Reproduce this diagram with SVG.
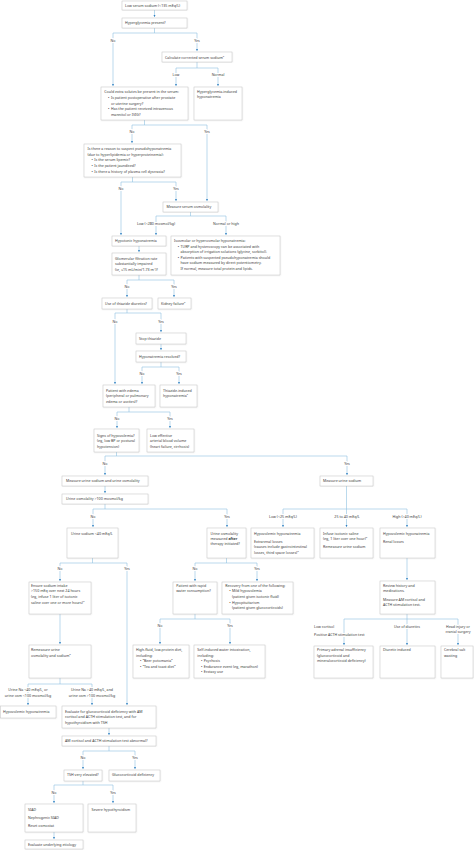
<svg xmlns="http://www.w3.org/2000/svg" width="474" height="850" viewBox="0 0 474 850">
<style>
.b{fill:#fff;stroke:#c4c4c4;stroke-width:0.5;filter:url(#sh)}
.t{font-family:"Noto Sans","Open Sans",sans-serif;font-size:3.6px;fill:#3a3a3a}
.l{font-family:"Noto Sans","Open Sans",sans-serif;font-size:3.6px;fill:#3a3a3a;text-anchor:middle;paint-order:stroke;stroke:#fff;stroke-width:2.2px;stroke-linejoin:round}
.ll{font-family:"Noto Sans","Open Sans",sans-serif;font-size:3.6px;fill:#3a3a3a;paint-order:stroke;stroke:#fff;stroke-width:2.2px;stroke-linejoin:round}
.c path{fill:none;stroke:#8dc1e1;stroke-width:0.6}
.c path.a{marker-end:url(#ah)}
.s{font-size:2.4px;baseline-shift:super}
</style>
<defs>
<marker id="ah" viewBox="0 0 4 4" refX="4" refY="2" markerWidth="2.4" markerHeight="2.4" markerUnits="userSpaceOnUse" orient="auto"><path d="M0,0 L4,2 L0,4 z" fill="#2f7fc1"/></marker>
<filter id="sh" x="-5%" y="-5%" width="110%" height="115%"><feDropShadow dx="0.3" dy="0.4" stdDeviation="0.4" flood-color="#000" flood-opacity="0.15"/></filter>
</defs>
<rect width="474" height="850" fill="#fff"/>
<g class="c" id="connectors">
<path class="a" d="M154.5,10 V17"/>
<path d="M154.5,28 V33 M113,33 H197"/><path class="a" d="M113,33 V86"/><path class="a" d="M197,33 V51"/>
<path d="M197,62 V68 M176,68 H218"/><path class="a" d="M176,68 V86"/><path class="a" d="M218,68 V86"/>
<path d="M144.5,120 V125 M132,125 H207"/><path class="a" d="M132,125 V143"/><path class="a" d="M207,125 V201"/>
<path d="M132.5,177 V182 M121,182 H176"/><path class="a" d="M121,182 V235"/><path class="a" d="M176,182 V201"/>
<path d="M190.5,212 V216 M156,216 H226"/><path class="a" d="M156,216 V235"/><path class="a" d="M226,216 V235"/>
<path class="a" d="M139,246 V252"/>
<path d="M139,275 V280 M127,280 H174"/><path class="a" d="M127,280 V297"/><path class="a" d="M174,280 V297"/>
<path d="M127,309 V313 M115,313 H161"/><path class="a" d="M115,313 V384"/><path class="a" d="M161,313 V332"/>
<path class="a" d="M161,344 V350"/>
<path d="M161,362 V367 M142,367 H179"/><path class="a" d="M142,367 V384"/><path class="a" d="M179,367 V384"/>
<path d="M129,407 V412 M117,412 H170"/><path class="a" d="M117,412 V428"/><path class="a" d="M170,412 V428"/>
<path d="M116.5,452 V456 M105,456 H347"/><path class="a" d="M105,456 V475"/><path class="a" d="M347,456 V475"/>
<path class="a" d="M105,486 V493"/>
<path d="M105,504 V509 M93,509 H227"/><path class="a" d="M93,509 V527"/><path class="a" d="M227,509 V527"/>
<path d="M92.5,558 V563 M60,563 H127"/><path class="a" d="M60,563 V581"/><path class="a" d="M127,563 V705"/>
<path d="M226.5,558 V563 M195,563 H257"/><path class="a" d="M195,563 V581"/><path class="a" d="M257,563 V581"/>
<path d="M346.5,486 V509 M283,509 H407"/><path class="a" d="M283,509 V527"/><path class="a" d="M346.5,509 V527"/><path class="a" d="M407,509 V527"/>
<path class="a" d="M407,558 V580"/>
<path d="M407,614 V619 M344,619 H458"/><path class="a" d="M344,619 V645"/><path class="a" d="M407,619 V645"/><path class="a" d="M458,619 V645"/>
<path class="a" d="M60,614 V644"/>
<path d="M60,678 V684 M28,684 H92"/><path class="a" d="M28,684 V705"/><path class="a" d="M92,684 V705"/>
<path d="M195,614 V619 M160,619 H230"/><path class="a" d="M160,619 V644"/><path class="a" d="M230,619 V644"/>
<path class="a" d="M109,728 V735"/>
<path d="M109,746 V751 M83,751 H135"/><path class="a" d="M83,751 V769"/><path class="a" d="M135,751 V769"/>
<path d="M83,781 V785 M54,785 H113"/><path class="a" d="M54,785 V803"/><path class="a" d="M113,785 V803"/>
<path class="a" d="M54,832 V839"/>
</g>
<g id="labels">
<text class="l" x="113" y="42.2">No</text><text class="l" x="197" y="42.2">Yes</text>
<text class="l" x="176" y="76.2">Low</text><text class="l" x="218" y="76.2">Normal</text>
<text class="l" x="132" y="133.2">No</text><text class="l" x="207" y="133.2">Yes</text>
<text class="l" x="121" y="190.2">No</text><text class="l" x="176" y="190.2">Yes</text>
<text class="l" x="156" y="225.3">Low (&lt;280 mosmol/kg)</text><text class="l" x="226" y="225.3">Normal or high</text>
<text class="l" x="127" y="288.2">No</text><text class="l" x="174" y="288.2">Yes</text>
<text class="l" x="115" y="323.2">No</text><text class="l" x="161" y="323.2">Yes</text>
<text class="l" x="142" y="375.2">No</text><text class="l" x="179" y="375.2">Yes</text>
<text class="l" x="117" y="420">No</text><text class="l" x="170" y="420">Yes</text>
<text class="l" x="105" y="465">No</text><text class="l" x="347" y="465">Yes</text>
<text class="l" x="93" y="518">No</text><text class="l" x="227" y="518">Yes</text>
<text class="l" x="60" y="570">No</text><text class="l" x="127" y="570">Yes</text>
<text class="l" x="195" y="570">No</text><text class="l" x="257" y="570">Yes</text>
<text class="l" x="283" y="518">Low (&lt;25 mEq/L)</text><text class="l" x="347" y="518">25 to 40 mEq/L</text><text class="l" x="407" y="518">High (&gt;40 mEq/L)</text>
<text class="ll" x="314" y="628">Low cortisol</text><text class="ll" x="314" y="635.5">Positive ACTH stimulation test</text>
<text class="l" x="407" y="628">Use of diuretics</text>
<text class="l" x="458" y="628">Head injury or</text><text class="l" x="458" y="633">cranial surgery</text>
<text class="l" x="160" y="627">No</text><text class="l" x="230" y="627">Yes</text>
<text class="l" x="28" y="691">Urine Na &lt;40 mEq/L, or</text><text class="l" x="28" y="696.5">urine osm &lt;100 mosmol/kg</text>
<text class="l" x="92" y="691">Urine Na &gt;40 mEq/L, and</text><text class="l" x="92" y="696.5">urine osm &gt;100 mosmol/kg</text>
<text class="l" x="83" y="759.2">No</text><text class="l" x="135" y="759.2">Yes</text>
<text class="l" x="54" y="794.2">No</text><text class="l" x="113" y="794.2">Yes</text>
</g>
<g id="n1"><rect class="b" x="122" y="1" width="65" height="9"/><text class="t" x="125" y="6.6">Low serum sodium (&lt;135 mEq/L)</text></g>
<g id="n2"><rect class="b" x="122" y="18" width="65" height="10"/><text class="t" x="125" y="24.3">Hyperglycemia present?</text></g>
<g id="n3"><rect class="b" x="162" y="52" width="70" height="10"/><text class="t" x="165" y="58.6">Calculate corrected serum sodium<tspan class="s">a</tspan></text></g>
<g id="n4"><rect class="b" x="101" y="87" width="87" height="33"/><text class="t"><tspan x="104.3" y="92.6">Could extra solutes be present in the serum:</tspan><tspan x="108" y="99.3">•</tspan><tspan x="111" y="99.3">Is patient postoperative after prostate</tspan><tspan x="111" y="104.6">or uterine surgery?</tspan><tspan x="108" y="110.3">•</tspan><tspan x="111" y="110.3">Has the patient received intravenous</tspan><tspan x="111" y="115.6">mannitol or IVIG?</tspan></text></g>
<g id="n5"><rect class="b" x="194" y="87" width="48" height="33"/><text class="t"><tspan x="197" y="92.6">Hyperglycemia-induced</tspan><tspan x="197" y="98.3">hyponatremia</tspan></text></g>
<g id="n6"><rect class="b" x="84" y="144" width="97" height="33"/><text class="t"><tspan x="87.5" y="150.3">Is there a reason to suspect pseudohyponatremia</tspan><tspan x="87.5" y="155.6">(due to hyperlipidemia or hyperproteinemia):</tspan><tspan x="91.5" y="161.3">•</tspan><tspan x="94.3" y="161.3">Is the serum lipemic?</tspan><tspan x="91.5" y="167">•</tspan><tspan x="94.3" y="167">Is the patient jaundiced?</tspan><tspan x="91.5" y="172.7">•</tspan><tspan x="94.3" y="172.7">Is there a history of plasma cell dyscrasia?</tspan></text></g>
<g id="n8"><rect class="b" x="163" y="202" width="55" height="10"/><text class="t" x="166.5" y="207.6">Measure serum osmolality</text></g>
<g id="n9"><rect class="b" x="112" y="236" width="54" height="10"/><text class="t" x="115" y="242">Hypotonic hyponatremia</text></g>
<g id="n10"><rect class="b" x="171" y="236" width="109" height="39"/><text class="t"><tspan x="174" y="242">Isosmolar or hyperosmolar hyponatremia:</tspan><tspan x="177.7" y="247.5">•</tspan><tspan x="180.5" y="247.5">TURP and hysteroscopy can be associated with</tspan><tspan x="180.5" y="253">absorption of irrigation solutions (glycine, sorbitol).</tspan><tspan x="177.7" y="258.5">•</tspan><tspan x="180.5" y="258.5">Patients with suspected pseudohyponatremia should</tspan><tspan x="180.5" y="264">have sodium measured by direct potentiometry.</tspan><tspan x="180.5" y="269.5">If normal, measure total protein and lipids.</tspan></text></g>
<g id="n11"><rect class="b" x="112" y="253" width="54" height="22"/><text class="t"><tspan x="115" y="260">Glomerular filtration rate</tspan><tspan x="115" y="265.3">substantially impaired</tspan><tspan x="115" y="270.6">(ie, ≤15 mL/min/1.73 m²)?</tspan></text></g>
<g id="n12"><rect class="b" x="102" y="298" width="50" height="11"/><text class="t" x="105" y="305.2">Use of thiazide diuretics?</text></g>
<g id="n13"><rect class="b" x="158" y="298" width="33" height="11"/><text class="t" x="161" y="305.2">Kidney failure<tspan class="s">b</tspan></text></g>
<g id="n14"><rect class="b" x="136" y="333" width="50" height="11"/><text class="t" x="139" y="339.5">Stop thiazide</text></g>
<g id="n15"><rect class="b" x="136" y="351" width="50" height="11"/><text class="t" x="139" y="357.5">Hyponatremia resolved?</text></g>
<g id="n16"><rect class="b" x="103" y="385" width="52" height="22"/><text class="t"><tspan x="106" y="391.5">Patient with edema</tspan><tspan x="106" y="397.2">(peripheral or pulmonary</tspan><tspan x="106" y="403">edema or ascites)?</tspan></text></g>
<g id="n17"><rect class="b" x="160" y="385" width="37" height="22"/><text class="t"><tspan x="163" y="391.5">Thiazide-induced</tspan><tspan x="163" y="397.2">hyponatremia<tspan class="s">c</tspan></tspan></text></g>
<g id="n18"><rect class="b" x="94" y="429" width="45" height="23"/><text class="t"><tspan x="97" y="436.8">Signs of hypovolemia?</tspan><tspan x="97" y="442.3">(eg, low BP or postural</tspan><tspan x="97" y="447.6">hypotension)</tspan></text></g>
<g id="n19"><rect class="b" x="147" y="429" width="47" height="23"/><text class="t"><tspan x="150" y="436.8">Low effective</tspan><tspan x="150" y="442.3">arterial blood volume</tspan><tspan x="150" y="447.6">(heart failure, cirrhosis)</tspan></text></g>
<g id="n20"><rect class="b" x="62" y="476" width="86" height="10"/><text class="t" x="66" y="482.3">Measure urine sodium and urine osmolality</text></g>
<g id="n21"><rect class="b" x="62" y="494" width="86" height="10"/><text class="t" x="66" y="500.3">Urine osmolality &gt;100 mosmol/kg</text></g>
<g id="n22"><rect class="b" x="67" y="528" width="51" height="30"/><text class="t" x="71" y="534.5">Urine sodium &lt;40 mEq/L</text></g>
<g id="n23"><rect class="b" x="207" y="528" width="39" height="30"/><text class="t"><tspan x="210.5" y="534.5">Urine osmolality</tspan><tspan x="210.5" y="540">measured <tspan font-weight="bold">after</tspan></tspan><tspan x="210.5" y="545.3">therapy initiated?</tspan></text></g>
<g id="n24"><rect class="b" x="320" y="476" width="53" height="10"/><text class="t" x="323" y="482">Measure urine sodium</text></g>
<g id="n25"><rect class="b" x="251" y="528" width="63" height="30"/><text class="t"><tspan x="254" y="534.5">Hypovolemic hyponatremia</tspan><tspan x="254" y="543">Extrarenal losses</tspan><tspan x="254" y="548.3">(causes include gastrointestinal</tspan><tspan x="254" y="553.6">losses, third space losses)<tspan class="s">d</tspan></tspan></text></g>
<g id="n26"><rect class="b" x="320" y="528" width="53" height="30"/><text class="t"><tspan x="323" y="534.5">Infuse isotonic saline</tspan><tspan x="323" y="540">(eg, 1 liter over one hour)<tspan class="s">d</tspan></tspan><tspan x="323" y="548.3">Remeasure urine sodium</tspan></text></g>
<g id="n27"><rect class="b" x="380" y="528" width="55" height="30"/><text class="t"><tspan x="383" y="534.5">Hypovolemic hyponatremia</tspan><tspan x="383" y="543">Renal losses</tspan></text></g>
<g id="n28"><rect class="b" x="380" y="581" width="55" height="33"/><text class="t"><tspan x="383" y="587">Review history and</tspan><tspan x="383" y="592.3">medications.</tspan><tspan x="383" y="600.6">Measure AM cortisol and</tspan><tspan x="383" y="606">ACTH stimulation test.</tspan></text></g>
<g id="n29"><rect class="b" x="314" y="646" width="59" height="32"/><text class="t"><tspan x="317" y="651.3">Primary adrenal insufficiency</tspan><tspan x="317" y="656.6">(glucocorticoid and</tspan><tspan x="317" y="662">mineralocorticoid deficiency)</tspan></text></g>
<g id="n30"><rect class="b" x="380" y="646" width="55" height="32"/><text class="t" x="383" y="651.3">Diuretic induced</text></g>
<g id="n31"><rect class="b" x="441" y="646" width="32" height="32"/><text class="t"><tspan x="444" y="651.3">Cerebral salt</tspan><tspan x="444" y="656.6">wasting</tspan></text></g>
<g id="n32"><rect class="b" x="29" y="582" width="62" height="32"/><text class="t"><tspan x="31" y="587">Ensure sodium intake</tspan><tspan x="31" y="592.3">&gt;150 mEq over next 24 hours</tspan><tspan x="31" y="598">(eg, infuse 1 liter of isotonic</tspan><tspan x="31" y="603.6">saline over one or more hours)<tspan class="s">d</tspan></tspan></text></g>
<g id="n33"><rect class="b" x="29" y="645" width="62" height="33"/><text class="t"><tspan x="31" y="651.3">Remeasure urine</tspan><tspan x="31" y="656.6">osmolality and sodium<tspan class="s">d</tspan></tspan></text></g>
<g id="n34"><rect class="b" x="0.5" y="706" width="55.5" height="12"/><text class="t" x="3" y="713">Hypovolemic hyponatremia</text></g>
<g id="n35"><rect class="b" x="62" y="706" width="94" height="22"/><text class="t"><tspan x="65" y="713">Evaluate for glucocorticoid deficiency with AM</tspan><tspan x="65" y="718.3">cortisol and ACTH stimulation test, and for</tspan><tspan x="65" y="724">hypothyroidism with TSH</tspan></text></g>
<g id="n36"><rect class="b" x="62" y="736" width="94" height="10"/><text class="t" x="65" y="742">AM cortisol and ACTH stimulation test abnormal?</text></g>
<g id="n37"><rect class="b" x="64" y="770" width="38" height="11"/><text class="t" x="67" y="776.3">TSH very elevated?</text></g>
<g id="n38"><rect class="b" x="109" y="770" width="51" height="11"/><text class="t" x="112" y="776.3">Glucocorticoid deficiency</text></g>
<g id="n39"><rect class="b" x="25" y="804" width="58" height="28"/><text class="t"><tspan x="28" y="810.6">SIAD</tspan><tspan x="28" y="819">Nephrogenic SIAD</tspan><tspan x="28" y="827.4">Reset osmostat</tspan></text></g>
<g id="n40"><rect class="b" x="88" y="804" width="48" height="28"/><text class="t" x="91.5" y="810.6">Severe hypothyroidism</text></g>
<g id="n41"><rect class="b" x="25" y="840" width="58" height="9"/><text class="t" x="28" y="845.6">Evaluate underlying etiology</text></g>
<g id="n42"><rect class="b" x="173" y="582" width="44" height="32"/><text class="t"><tspan x="176.3" y="587">Patient with rapid</tspan><tspan x="176.3" y="592.3">water consumption?</tspan></text></g>
<g id="n43"><rect class="b" x="222" y="582" width="71" height="32"/><text class="t"><tspan x="225.3" y="587">Recovery from one of the following:</tspan><tspan x="229.3" y="592.3">•</tspan><tspan x="232" y="592.3">Mild hypovolemia</tspan><tspan x="232" y="598">(patient given isotonic fluid)</tspan><tspan x="229.3" y="603.6">•</tspan><tspan x="232" y="603.6">Hypopituitarism</tspan><tspan x="232" y="609">(patient given glucocorticoids)</tspan></text></g>
<g id="n44"><rect class="b" x="133" y="645" width="56" height="33"/><text class="t"><tspan x="136" y="651.3">High-fluid, low-protein diet,</tspan><tspan x="136" y="656.6">including:</tspan><tspan x="140" y="662">•</tspan><tspan x="142.7" y="662">“Beer potomania”</tspan><tspan x="140" y="667.5">•</tspan><tspan x="142.7" y="667.5">“Tea and toast diet”</tspan></text></g>
<g id="n45"><rect class="b" x="194" y="645" width="71" height="33"/><text class="t"><tspan x="197.3" y="651.3">Self-induced water intoxication,</tspan><tspan x="197.3" y="656.6">including:</tspan><tspan x="201" y="662">•</tspan><tspan x="203.7" y="662">Psychosis</tspan><tspan x="201" y="667.5">•</tspan><tspan x="203.7" y="667.5">Endurance event (eg, marathon)</tspan><tspan x="201" y="673">•</tspan><tspan x="203.7" y="673">Ecstasy use</tspan></text></g>
</svg>
